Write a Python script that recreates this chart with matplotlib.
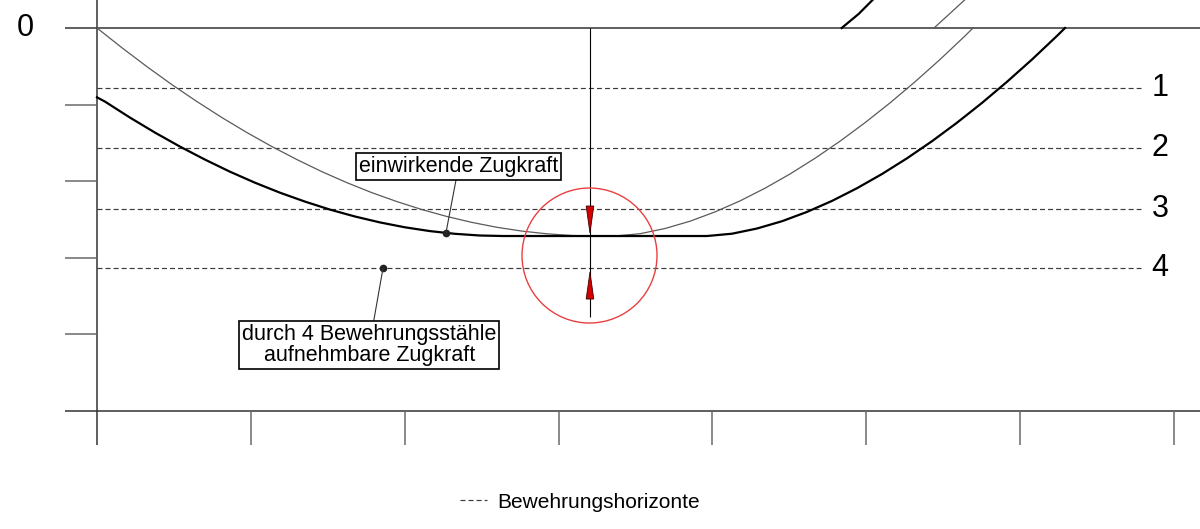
import matplotlib
matplotlib.use("Agg")
import matplotlib.pyplot as plt
from matplotlib.patches import Ellipse, Polygon
from matplotlib.lines import Line2D

plt.rcParams['font.family'] = ['Liberation Sans', 'DejaVu Sans']
plt.rcParams['lines.scale_dashes'] = False

# ---- data (x: length units, y: tensile force units, downward positive) ----
# einwirkende Zugkraft (acting tensile force)
acting_x = [0, 0.1625, 0.3250, 0.4874, 0.6499, 0.8124, 0.9749, 1.1374, 1.2998, 1.4623,
            1.6248, 1.7873, 1.9498, 2.1123, 2.2748, 2.4372, 2.5997, 2.7622, 2.9247,
            3.0872, 3.2367,
            3.3667, 3.5292, 3.6917, 3.8542, 4.0166, 4.1791, 4.3416, 4.5041, 4.6666,
            4.8291, 4.9915, 5.1540, 5.3165, 5.4790, 5.6415, 5.6935]
acting_y = [0, 0.2585, 0.5052, 0.7402, 0.9608, 1.1697, 1.3655, 1.5483, 1.7180, 1.8760,
            2.0196, 2.1501, 2.2663, 2.3708, 2.4608, 2.5379, 2.6018, 2.6514, 2.6867,
            2.7089, 2.7154,
            2.7154, 2.6854, 2.6175, 2.5222, 2.4008, 2.2572, 2.0914, 1.9060, 1.7010,
            1.4778, 1.2363, 0.9778, 0.7023, 0.4112, 0.1031, 0]
# aufnehmbare Zugkraft (resisting tensile force of 4 bars)
resist_x = [0, 0.052, 0.2145, 0.3770, 0.5395, 0.7019, 0.8644, 1.0269, 1.1894, 1.3519,
            1.5144, 1.6768, 1.8393, 2.0018, 2.1643, 2.3268, 2.4893, 2.6388,
            3.9646, 4.1271, 4.2896, 4.4521, 4.6145, 4.7770, 4.9395, 5.1020, 5.2645,
            5.4270, 5.5894, 5.7519, 5.9144, 6.0769, 6.2394, 6.2914]
resist_y = [0.905, 0.9608, 1.1697, 1.3655, 1.5483, 1.7180, 1.8760, 2.0196, 2.1501,
            2.2663, 2.3708, 2.4608, 2.5379, 2.6018, 2.6514, 2.6867, 2.7089, 2.7154,
            2.7154, 2.6854, 2.6175, 2.5222, 2.4008, 2.2572, 2.0914, 1.9060, 1.7010,
            1.4778, 1.2363, 0.9778, 0.7023, 0.4112, 0.1031, 0]
# continuation above the zero line
acting_up_x = [5.44, 5.54, 5.66]
acting_up_y = [0, -0.183, -0.405]
resist_up_x = [4.84, 4.95, 5.06]
resist_up_y = [0, -0.183, -0.405]

# reinforcement horizons
horizon_y = [0.783, 1.567, 2.363, 3.133]
horizon_labels = ['1', '2', '3', '4']
horizon_end = 6.785

# axis frame
x_ticks = [0, 1, 2, 3, 4, 5, 6, 7]
y_ticks = [1, 2, 3, 4]
y_bottom = 5

# marker / annotation positions
section_x = 3.204
section_depth = 3.773
circle_center = (3.201, 2.970)
dot_acting = (2.268, 2.674)
dot_resist = (1.859, 3.133)
label_acting = (2.350, 1.808)
label_resist = (1.771, 4.138)

# ---- figure ----
fig = plt.figure(figsize=(12, 5.29), dpi=100)
ax = fig.add_axes([0, 0, 1, 1])
ax.set_xlim(-0.6304, 7.1688)
ax.set_ylim(6.540, -0.3655)
ax.axis('off')

axc = '#333333'
tickc = '#6a6a6a'
# frame lines
ax.hlines([0, y_bottom], -0.208, 7.2, color=axc, lw=1.1, zorder=2)
ax.vlines(0, -0.4, 5.444, color=axc, lw=1.1, zorder=2)
ax.hlines(y_ticks, -0.208, 0, color=tickc, lw=1.1)
ax.vlines(x_ticks[1:], y_bottom, 5.444, color=tickc, lw=1.1)
ax.text(-0.468, 0, '0', fontsize=22, ha='center', va='center')

# horizons
for yv, lab in zip(horizon_y, horizon_labels):
    ax.plot([0, horizon_end], [yv, yv], color='#3a3a3a', lw=0.85, dashes=(3.6, 2.2))
    ax.text(6.909, yv, lab, fontsize=22, ha='center', va='center')

# curves
ax.plot(acting_x, acting_y, color='#5a5a5a', lw=0.9, zorder=3)
ax.plot(acting_up_x, acting_up_y, color='#5a5a5a', lw=0.9, zorder=3)
ax.plot(resist_x, resist_y, color='black', lw=1.6, zorder=4)
ax.plot(resist_up_x, resist_up_y, color='black', lw=1.6, zorder=4)

# section marker
ax.vlines(section_x, 0, section_depth, color='black', lw=0.8, zorder=5)
ax.add_patch(Ellipse(circle_center, 135 / 153.86, 135 / 76.6, fill=False,
                     edgecolor='#e84040', lw=1.0, zorder=5))
dx = 3.8 / 153.86
ax.add_patch(Polygon([(section_x - dx, 2.324), (section_x + dx, 2.324),
                      (section_x, 2.676)], closed=True, facecolor='#d40000',
                     edgecolor='#400000', lw=0.6, zorder=6))
ax.add_patch(Polygon([(section_x - dx, 3.538), (section_x + dx, 3.538),
                      (section_x, 3.185)], closed=True, facecolor='#d40000',
                     edgecolor='#400000', lw=0.6, zorder=6))

# annotations
box = dict(boxstyle='square,pad=0.13', facecolor='white', edgecolor='black', lw=1.2)
for dot, pos, txt in [(dot_acting, label_acting, 'einwirkende Zugkraft'),
                      (dot_resist, label_resist,
                       'durch 4 Bewehrungsstähle\naufnehmbare Zugkraft')]:
    ax.plot(*dot, 'o', color='#222222', ms=4.5, zorder=7)
    ax.annotate(txt, xy=dot, xytext=pos, fontsize=15.5, ha='center', va='center',
                multialignment='center', linespacing=1.02, bbox=box,
                arrowprops=dict(arrowstyle='-', color='#333333', lw=0.8,
                                shrinkA=0, shrinkB=0), zorder=8)

leg_handle = Line2D([], [], color='#3a3a3a', lw=0.85, dashes=(3.6, 2.2))
ax.legend([leg_handle], ['Bewehrungshorizonte'], loc='center',
          bbox_to_anchor=(580 / 1200, 1 - 502 / 529), frameon=False, fontsize=15,
          handlelength=1.25, handletextpad=0.5)

fig.savefig('out.png', dpi=100)
